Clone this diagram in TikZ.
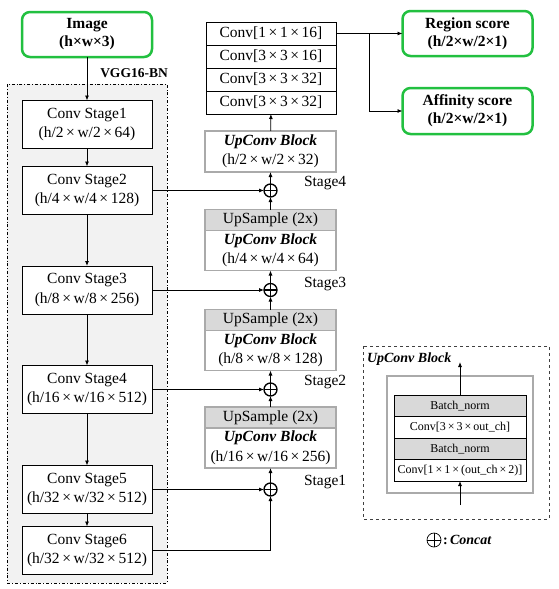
\documentclass[tikz,border=0pt]{standalone}
\usepackage{fontspec}
\setmainfont{Liberation Serif}
\usetikzlibrary{positioning,arrows.meta}
\definecolor{boxgreen}{RGB}{34,192,64}
\definecolor{blkgray}{RGB}{170,170,170}
\definecolor{headgray}{RGB}{217,217,217}
\definecolor{bggray}{RGB}{242,242,242}
\begin{document}
\begin{tikzpicture}[x=1pt,y=-1pt,inner sep=0pt,outer sep=0pt,line width=0.8pt,
>={Latex[length=5pt,width=4pt]},font=\fontsize{15.5}{19.5}\selectfont,
stagebox/.style={draw,fill=white,line width=1pt,minimum width=130pt,minimum height=48pt,align=center},
convrow/.style={draw,fill=white,line width=1pt,minimum width=130pt,minimum height=23pt},
scorebox/.style={draw=boxgreen,fill=white,line width=2.5pt,rounded corners=8pt,minimum width=130pt,minimum height=45pt,align=center,font=\fontsize{15.5}{18}\selectfont\bfseries},
upbody/.style={draw=blkgray,fill=white,line width=1.8pt,minimum width=131pt,minimum height=40pt,align=center},
uphead/.style={draw=blkgray,fill=headgray,line width=1.8pt,minimum width=131pt,minimum height=21pt},
legrow/.style={draw,fill=white,line width=1pt,minimum width=132pt,minimum height=21.5pt,font=\fontsize{12}{14}\selectfont},
concat/.style={draw,circle,line width=1.3pt,minimum size=13pt,path picture={\draw (path picture bounding box.north) -- (path picture bounding box.south) (path picture bounding box.west) -- (path picture bounding box.east);}}]

\useasboundingbox (0,0) rectangle (558,589);

% backbone
\draw[dash dot,fill=bggray] (7,84) rectangle (167,583);
\draw (134,73) node[font=\fontsize{13.5}{15}\selectfont\bfseries] (vgg) {VGG16-BN};
\draw (87,34.5) node[scorebox] (img) {Image\\(h×w×3)};
\draw (87,124.5) node[stagebox] (s1) {Conv Stage1\\(h/2\,×\,w/2\,×\,64)};
\draw (87,190.5) node[stagebox] (s2) {Conv Stage2\\(h/4\,×\,w/4\,×\,128)};
\draw (87,290) node[stagebox] (s3) {Conv Stage3\\(h/8\,×\,w/8\,×\,256)};
\draw (87,389.5) node[stagebox] (s4) {Conv Stage4\\(h/16\,×\,w/16\,×\,512)};
\draw (87,489.5) node[stagebox] (s5) {Conv Stage5\\(h/32\,×\,w/32\,×\,512)};
\draw (87,550.5) node[stagebox] (s6) {Conv Stage6\\(h/32\,×\,w/32\,×\,512)};
\draw[->] (img) -- (s1);
\draw[->] (s1) -- (s2);
\draw[->] (s2) -- (s3);
\draw[->] (s3) -- (s4);
\draw[->] (s4) -- (s5);
\draw[->] (s5) -- (s6);

% upsampling branch
\draw (270.5,190.5) node[concat] (cat4) {};
\draw (270.5,290) node[concat] (cat3) {};
\draw (270.5,389.5) node[concat] (cat2) {};
\draw (270.5,489.5) node[concat] (cat1) {};
\draw (270.5,151.5) node[upbody,minimum height=41pt] (up4) {\textbf{\textit{UpConv Block}}\\(h/2\,×\,w/2\,×\,32)};
\draw (270.5,220) node[uphead] (up3h) {UpSample (2x)};
\node[upbody,below=0pt of up3h] (up3) {\textbf{\textit{UpConv Block}}\\(h/4\,×\,w/4\,×\,64)};
\draw (270.5,320) node[uphead] (up2h) {UpSample (2x)};
\node[upbody,below=0pt of up2h] (up2) {\textbf{\textit{UpConv Block}}\\(h/8\,×\,w/8\,×\,128)};
\draw (270.5,417.5) node[uphead] (up1h) {UpSample (2x)};
\node[upbody,below=0pt of up1h] (up1) {\textbf{\textit{UpConv Block}}\\(h/16\,×\,w/16\,×\,256)};
\node[right=27pt of cat4,yshift=7pt] (st4) {Stage4};
\node[right=27pt of cat3,yshift=6pt] (st3) {Stage3};
\node[right=27pt of cat2,yshift=7pt] (st2) {Stage2};
\node[right=27pt of cat1,yshift=7pt] (st1) {Stage1};
\draw[->] (s2) -- (cat4);
\draw[->] (s3) -- (cat3);
\draw[->] (s4) -- (cat2);
\draw[->] (s5) -- (cat1);
\draw[->] (s6.east) -| (cat1.south);
\draw[->] (cat1) -- (up1);
\draw[->] (up1h) -- (cat2);
\draw[->] (cat2) -- (up2);
\draw[->] (up2h) -- (cat3);
\draw[->] (cat3) -- (up3);
\draw[->] (up3h) -- (cat4);
\draw[->] (cat4) -- (up4);

% head
\draw (271,33.5) node[convrow] (c1) {Conv[1\,×\,1\,×\,16]};
\node[convrow,below=0pt of c1] (c2) {Conv[3\,×\,3\,×\,16]};
\node[convrow,below=0pt of c2] (c3) {Conv[3\,×\,3\,×\,32]};
\node[convrow,below=0pt of c3] (c4) {Conv[3\,×\,3\,×\,32]};
\draw[->] (up4) -- (c4);
\draw (467.5,33.5) node[scorebox] (region) {Region score\\(h/2×w/2×1)};
\draw (467.5,111) node[scorebox,minimum height=46pt] (affinity) {Affinity score\\(h/2×w/2×1)};
\coordinate[right=33pt of c1.east] (split);
\draw[->] (c1.east) -- (region.west);
\draw[->] (split) |- (affinity.west);

% legend
\draw[dashed,line width=1pt,draw=black!75] (363,346) rectangle (549,519);
\draw (367,359) node[anchor=west,font=\fontsize{14}{16}\selectfont\bfseries\itshape] (leglbl) {UpConv Block};
\draw[draw=blkgray,line width=1.8pt] (387,376) rectangle (533,493);
\draw (460,405.75) node[legrow,fill=headgray] (bn1) {Batch\_norm};
\node[legrow,below=0pt of bn1] (cv1) {Conv[3\,×\,3\,×\,out\_ch]};
\node[legrow,below=0pt of cv1,fill=headgray] (bn2) {Batch\_norm};
\node[legrow,below=0pt of bn2] (cv2) {Conv[1\,×\,1\,×\,(out\_ch\,×\,2)]};
\coordinate (legin) at (460,505);
\coordinate (legout) at (460,362);
\draw[->] (legin) -- (cv2);
\draw[->] (bn1) -- (legout);
\draw (434,540) node[concat,line width=0.7pt,minimum size=14pt] (legcat) {};
\node[right=2pt of legcat,font=\fontsize{14}{16}\selectfont\bfseries] (legtxt) {:\,\textit{Concat}};
\end{tikzpicture}
\end{document}
